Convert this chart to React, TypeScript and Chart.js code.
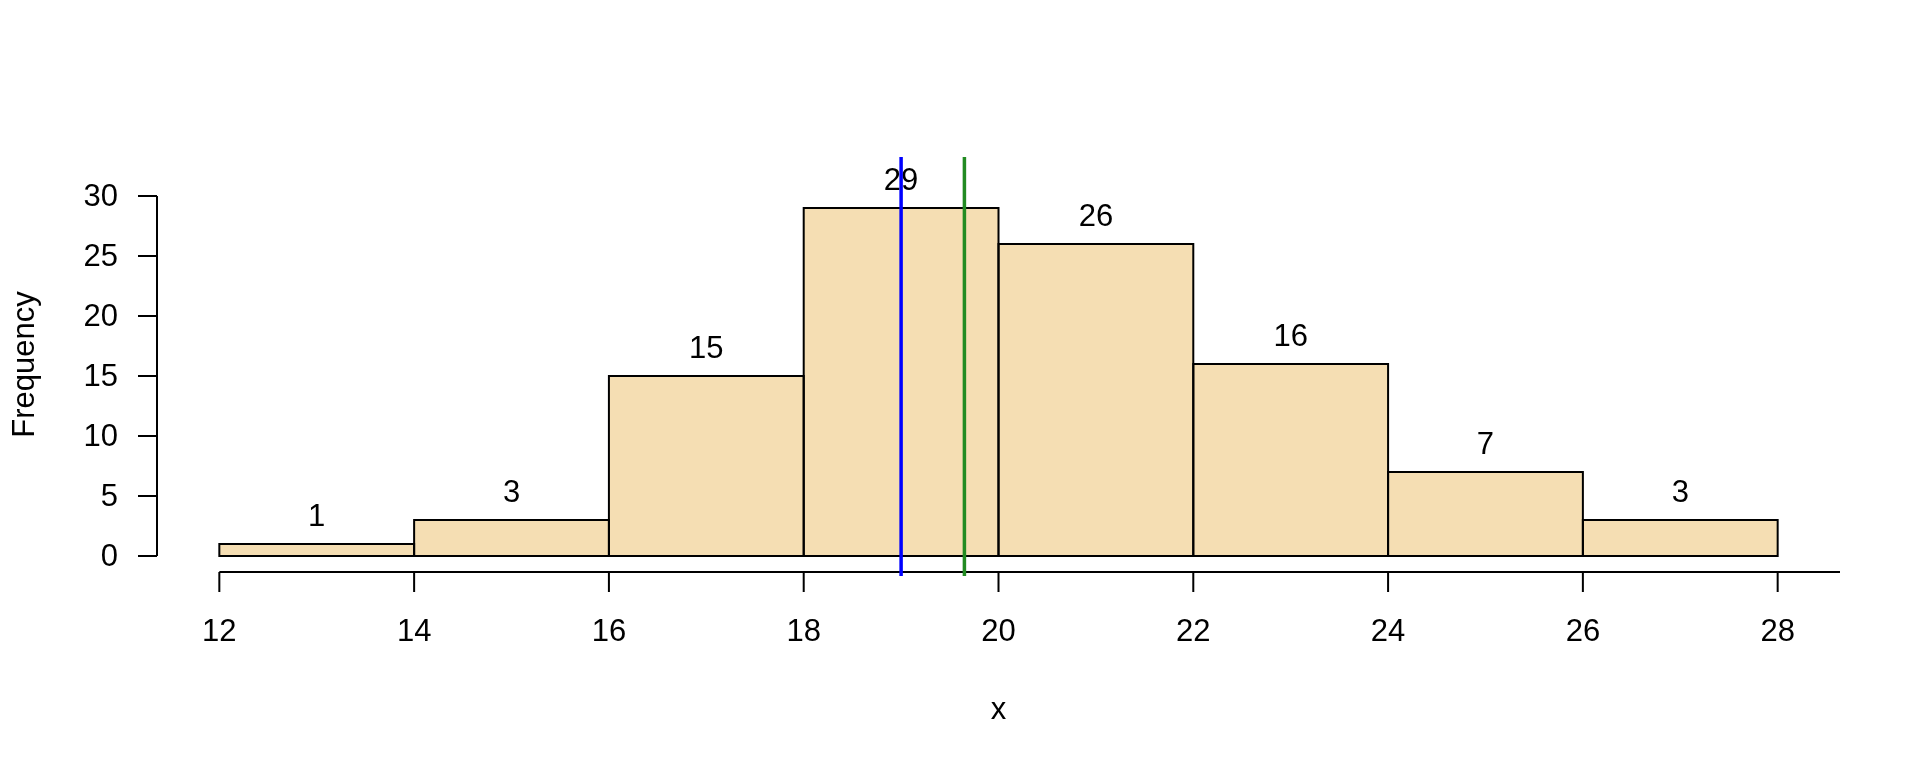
import React, { useEffect, useRef } from "react";
import { Chart, registerables } from "chart.js";

Chart.register(...registerables);

// ---- data ----
const binStarts = [12, 14, 16, 18, 20, 22, 24, 26];
const binWidth = 2;
const counts = [1, 3, 15, 29, 26, 16, 7, 3];
const xTicks = [12, 14, 16, 18, 20, 22, 24, 26, 28];
const yTicks = [0, 5, 10, 15, 20, 25, 30];
const medianValue = 19.0;
const meanValue = 19.65;
const xTitle = "x";
const yTitle = "Frequency";

const FONT = '31px "Liberation Sans", Arial, sans-serif';

const rStylePlugin = {
  id: "rStyle",
  afterDatasetsDraw(chart: any) {
    const { ctx, chartArea, scales } = chart;
    const xs = scales.x;
    const ys = scales.y;
    ctx.save();
    ctx.font = FONT;
    ctx.fillStyle = "#000";
    ctx.strokeStyle = "#000";
    ctx.lineWidth = 2;

    // bar outlines (centred strokes, like R's rect)
    const meta = chart.getDatasetMeta(0);
    meta.data.forEach((bar: any) => {
      const { x, y, base, width } = bar.getProps(["x", "y", "base", "width"], true);
      ctx.strokeRect(x - width / 2, y, width, base - y);
    });

    // bar count labels
    ctx.textAlign = "center";
    ctx.textBaseline = "alphabetic";
    binStarts.forEach((s, i) => {
      const px = xs.getPixelForValue(s + binWidth / 2);
      const py = ys.getPixelForValue(counts[i]);
      ctx.fillText(String(counts[i]), px, py - 18);
    });

    // y axis
    const ax = chartArea.left;
    ctx.beginPath();
    ctx.moveTo(ax, ys.getPixelForValue(yTicks[0]));
    ctx.lineTo(ax, ys.getPixelForValue(yTicks[yTicks.length - 1]));
    yTicks.forEach((t) => {
      const py = ys.getPixelForValue(t);
      ctx.moveTo(ax, py);
      ctx.lineTo(ax - 19, py);
    });
    ctx.stroke();
    ctx.textAlign = "right";
    ctx.textBaseline = "middle";
    yTicks.forEach((t) => {
      ctx.fillText(String(t), ax - 39, ys.getPixelForValue(t) + 1);
    });

    // x axis
    const ay = chartArea.bottom;
    ctx.beginPath();
    ctx.moveTo(xs.getPixelForValue(xTicks[0]), ay);
    ctx.lineTo(chartArea.right, ay);
    xTicks.forEach((t) => {
      const px = xs.getPixelForValue(t);
      ctx.moveTo(px, ay);
      ctx.lineTo(px, ay + 20);
    });
    ctx.stroke();
    ctx.textAlign = "center";
    ctx.textBaseline = "middle";
    xTicks.forEach((t) => {
      ctx.fillText(String(t), xs.getPixelForValue(t), ay + 60);
    });

    // titles
    ctx.fillText(xTitle, (chartArea.left + chartArea.right) / 2, ay + 138);
    ctx.save();
    ctx.translate(25, (chartArea.top + chartArea.bottom) / 2);
    ctx.rotate(-Math.PI / 2);
    ctx.fillText(yTitle, 0, 0);
    ctx.restore();

    // vertical reference lines
    ctx.lineWidth = 3.5;
    const vline = (v: number, color: string) => {
      const px = xs.getPixelForValue(v);
      ctx.strokeStyle = color;
      ctx.beginPath();
      ctx.moveTo(px, chartArea.top);
      ctx.lineTo(px, chartArea.bottom + 4);
      ctx.stroke();
    };
    vline(medianValue, "#0000FF");
    vline(meanValue, "#228B22");

    ctx.restore();
  },
};

export default function App() {
  const canvasRef = useRef<HTMLCanvasElement | null>(null);

  useEffect(() => {
    document.body.style.margin = "0";
    const canvas = canvasRef.current;
    if (!canvas) return;
    const chart = new Chart(canvas, {
      type: "bar",
      data: {
        datasets: [
          {
            label: "Frequency",
            data: binStarts.map((s, i) => ({ x: s + binWidth / 2, y: counts[i] })),
            backgroundColor: "#F5DEB3",
            borderWidth: 0,
            barPercentage: 1,
            categoryPercentage: 1,
            base: 0,
          } as any,
        ],
      },
      options: {
        animation: false,
        responsive: true,
        maintainAspectRatio: false,
        devicePixelRatio: 1,
        layout: { padding: { left: 157, right: 80, top: 157, bottom: 196 } },
        plugins: {
          legend: { display: false },
          tooltip: { enabled: false },
          title: { display: false },
        },
        scales: {
          x: {
            type: "linear",
            min: 11.36,
            max: 28.64,
            display: false,
            offset: false,
            afterBuildTicks: (scale: any) => {
              scale.ticks = xTicks.map((v) => ({ value: v }));
            },
          },
          y: { type: "linear", min: -1.333, max: 33.25, display: false },
        },
      },
      plugins: [rStylePlugin],
    });
    return () => chart.destroy();
  }, []);

  return (
    <div style={{ width: 1920, height: 768, position: "relative", background: "#fff" }}>
      <canvas ref={canvasRef} />
    </div>
  );
}
